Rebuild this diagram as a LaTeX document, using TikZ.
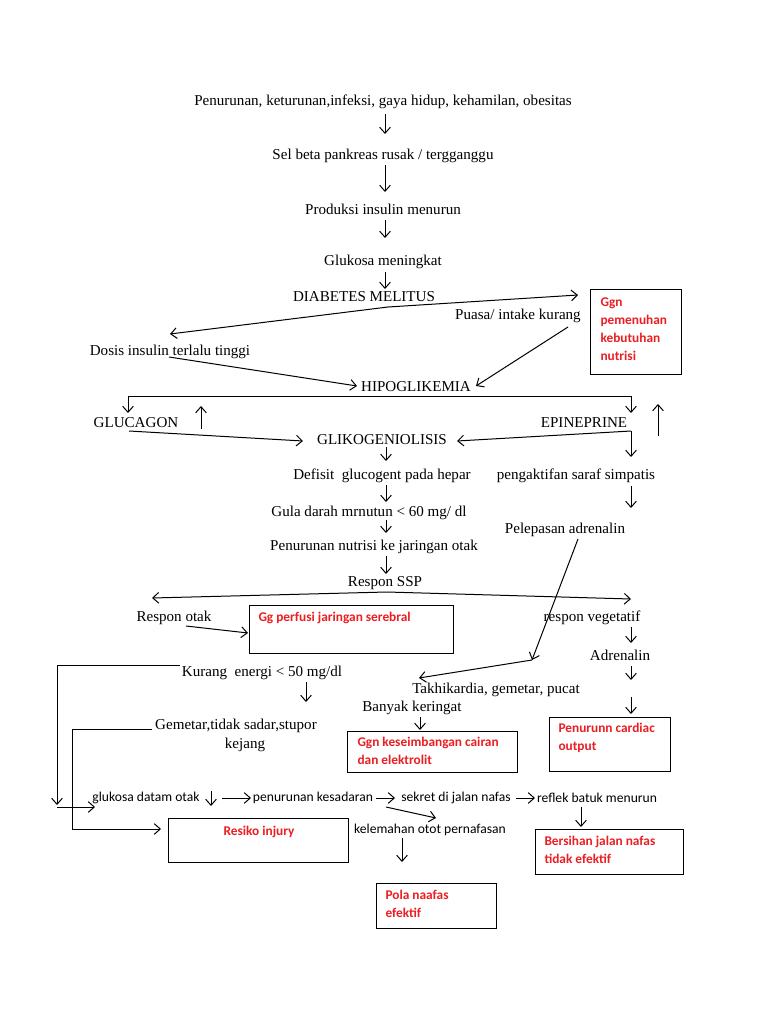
\documentclass[tikz,border=0pt]{standalone}
\usepackage{fontspec}
\setmainfont{Liberation Serif}
\newfontfamily\calfont{Carlito}
\usetikzlibrary{arrows.meta,fit}
\definecolor{redtxt}{RGB}{235,30,35}
\begin{document}
\begin{tikzpicture}[x=0.75pt,y=-0.75pt,line width=0.75pt,
  arr/.style={-{Straight Barb[length=4.5pt,width=8pt,line width=0.75pt]}},
  t/.style={inner sep=0pt,font=\fontsize{11.3}{13}\selectfont},
  s/.style={inner sep=0pt,font=\calfont\fontsize{10.2}{12}\selectfont},
  r/.style={inner sep=0pt,font=\calfont\bfseries\fontsize{10}{13.5}\selectfont,text=redtxt,align=left,anchor=north west},
  boxed/.style={draw,line width=0.75pt,inner sep=0pt}]
\useasboundingbox (0,0) rectangle (768,1024);
\fill[white] (0,0) rectangle (768,1024);

% ---------- text nodes (serif) ----------
\node[t] (n1) at (383,102) {Penurunan, keturunan,infeksi, gaya hidup, kehamilan, obesitas};
\node[t] (n2) at (383,156) {Sel beta pankreas rusak / tergganggu};
\node[t] (n3) at (383,209) {Produksi insulin menurun};
\node[t] (n4) at (383,262) {Glukosa meningkat};
\node[t] (dm) at (364,297) {DIABETES MELITUS};
\node[t] (puasa) at (518,316) {Puasa/ intake kurang};
\node[t] (dosis) at (170,352) {Dosis insulin terlalu tinggi};
\node[t] (hipo) at (416,387) {HIPOGLIKEMIA};
\node[t] (gluc) at (136,423) {GLUCAGON};
\node[t] (epi) at (584,423) {EPINEPRINE};
\node[t] (glik) at (382,440) {GLIKOGENIOLISIS};
\node[t] (def) at (382,476) {Defisit~ glucogent pada hepar};
\node[t] (gula) at (369,513) {Gula darah mrnutun < 60 mg/ dl};
\node[t] (pen) at (374,547) {Penurunan nutrisi ke jaringan otak};
\node[t] (ssp) at (385,583) {Respon SSP};
\node[t] (peng) at (576,476) {pengaktifan saraf simpatis};
\node[t] (pel) at (565,530) {Pelepasan adrenalin};
\node[t] (otak) at (174,618) {Respon otak};
\node[t] (veg) at (592,618) {respon vegetatif};
\node[t] (adr) at (620,655) {Adrenalin};
\node[t] (takh) at (496,690) {Takhikardia, gemetar, pucat};
\node[t] (bany) at (412,708) {Banyak keringat};
\node[t] (kur) at (262,673) {Kurang~ energi < 50 mg/dl};
\node[t] (gem) at (236,726) {Gemetar,tidak sadar,stupor};
\node[t] (kej) at (245,745) {kejang};

% ---------- text nodes (sans, bottom row) ----------
\node[s] (glo) at (146,798) {glukosa datam otak};
\node[s] (kes) at (313,798) {penurunan kesadaran};
\node[s] (sek) at (456,798) {sekret di jalan nafas};
\node[s] (refl) at (597,798) {reflek batuk menurun};
\node[s] (kel) at (430,830) {kelemahan otot pernafasan};

% ---------- boxes ----------
\coordinate (b1a) at (590,289); \coordinate (b1b) at (681,374);
\node[boxed,fit=(b1a)(b1b)] (box1) {};
\node[r] (box1t) at (600,297) {Ggn\\pemenuhan\\kebutuhan\\nutrisi};

\coordinate (b2a) at (249,605); \coordinate (b2b) at (453,653);
\node[boxed,fit=(b2a)(b2b)] (box2) {};
\node[r] (box2t) at (258,612) {Gg perfusi jaringan serebral};

\coordinate (b3a) at (347,731); \coordinate (b3b) at (517,772);
\node[boxed,fit=(b3a)(b3b)] (box3) {};
\node[r] (box3t) at (357,737) {Ggn keseimbangan cairan\\dan elektrolit};

\coordinate (b4a) at (549,717); \coordinate (b4b) at (670,771);
\node[boxed,fit=(b4a)(b4b)] (box4) {};
\node[r] (box4t) at (558,723) {Penurunn cardiac\\output};

\coordinate (b5a) at (168,818); \coordinate (b5b) at (348,862);
\node[boxed,fit=(b5a)(b5b)] (box5) {};
\node[inner sep=0pt,font=\calfont\bfseries\fontsize{10}{13.5}\selectfont,text=redtxt] (box5t) at (259,832) {Resiko injury};

\coordinate (b6a) at (376,883); \coordinate (b6b) at (496,928);
\node[boxed,fit=(b6a)(b6b)] (box6) {};
\node[r] (box6t) at (385,890) {Pola naafas\\efektif};

\coordinate (b7a) at (535,829); \coordinate (b7b) at (683,874);
\node[boxed,fit=(b7a)(b7b)] (box7) {};
\node[r] (box7t) at (544,836) {Bersihan jalan nafas\\tidak efektif};

% ---------- connector coordinates ----------
\coordinate (a1s) at (385,114); \coordinate (a1e) at (385,134);
\coordinate (a2s) at (385,165); \coordinate (a2e) at (385,192);
\coordinate (a3s) at (385,220); \coordinate (a3e) at (385,238);
\coordinate (a4s) at (385,272); \coordinate (a4e) at (385,289);
\coordinate (jdm) at (388,307);
\coordinate (gge) at (578,295);
\coordinate (dose) at (170,334);
\coordinate (puas) at (568,327); \coordinate (hipR) at (476,386);
\coordinate (doss) at (169,357); \coordinate (hipL) at (357,386);
\coordinate (hl) at (128,396); \coordinate (hr) at (631,396);
\coordinate (hle) at (128,413); \coordinate (hre) at (631,413);
\coordinate (gu1) at (201,429); \coordinate (gu2) at (201,406);
\coordinate (eu1) at (658,436); \coordinate (eu2) at (658,404);
\coordinate (glus) at (129,431); \coordinate (glikL) at (303,441);
\coordinate (epis) at (631,431); \coordinate (glikR) at (457,441);
\coordinate (epid) at (631,457);
\coordinate (k1s) at (386,447); \coordinate (k1e) at (386,461);
\coordinate (k2s) at (386,485); \coordinate (k2e) at (386,502);
\coordinate (k3s) at (386,520); \coordinate (k3e) at (386,533);
\coordinate (k4s) at (386,556); \coordinate (k4e) at (386,574);
\coordinate (jssp) at (387,592);
\coordinate (sspL) at (152,598); \coordinate (sspR) at (631,599);
\coordinate (ps1) at (631,486); \coordinate (ps2) at (631,508);
\coordinate (pls) at (578,539); \coordinate (plm) at (532,660); \coordinate (ple) at (419,678);
\coordinate (ots) at (186,626); \coordinate (ote) at (248,633);
\coordinate (v1s) at (631,627); \coordinate (v1e) at (631,643);
\coordinate (v2s) at (631,666); \coordinate (v2e) at (631,680);
\coordinate (v3s) at (631,697); \coordinate (v3e) at (631,714);
\coordinate (bks) at (420,717); \coordinate (bke) at (420,730);
\coordinate (kus) at (306,682); \coordinate (kue) at (306,702);
\coordinate (l1s) at (180,665); \coordinate (l1c) at (57,665); \coordinate (l1e) at (57,805);
\coordinate (l1h) at (57,807); \coordinate (l1he) at (95,807);
\coordinate (l2s) at (152,729); \coordinate (l2c) at (72,729); \coordinate (l2d) at (72,829); \coordinate (l2e) at (161,829);
\coordinate (gd1) at (211,791); \coordinate (gd2) at (211,806);
\coordinate (h1s) at (222,798); \coordinate (h1e) at (251,798);
\coordinate (h2s) at (376,798); \coordinate (h2e) at (395,798);
\coordinate (h3s) at (516,798); \coordinate (h3e) at (535,798);
\coordinate (kls) at (386,807); \coordinate (kle) at (436,818);
\coordinate (pds) at (402,838); \coordinate (pde) at (402,862);
\coordinate (rds) at (581,807); \coordinate (rde) at (581,827);

% ---------- connectors ----------
\draw[arr] (a1s) -- (a1e);
\draw[arr] (a2s) -- (a2e);
\draw[arr] (a3s) -- (a3e);
\draw[arr] (a4s) -- (a4e);
\draw[arr] (jdm) -- (gge);
\draw[arr] (jdm) -- (dose);
\draw[arr] (puas) -- (hipR);
\draw[arr] (doss) -- (hipL);
\draw (hl) -- (hr);
\draw[arr] (hl) -- (hle);
\draw[arr] (hr) -- (hre);
\draw[arr] (gu1) -- (gu2);
\draw[arr] (eu1) -- (eu2);
\draw[arr] (glus) -- (glikL);
\draw[arr] (epis) -- (glikR);
\draw[arr] (epis) -- (epid);
\draw[arr] (k1s) -- (k1e);
\draw[arr] (k2s) -- (k2e);
\draw[arr] (k3s) -- (k3e);
\draw[arr] (k4s) -- (k4e);
\draw[arr] (jssp) -- (sspL);
\draw[arr] (jssp) -- (sspR);
\draw[arr] (ps1) -- (ps2);
\draw[arr] (pls) -- (plm);
\draw[arr] (plm) -- (ple);
\draw[arr] (ots) -- (ote);
\draw[arr] (v1s) -- (v1e);
\draw[arr] (v2s) -- (v2e);
\draw[arr] (v3s) -- (v3e);
\draw[arr] (bks) -- (bke);
\draw[arr] (kus) -- (kue);
\draw[arr] (l1s) -- (l1c) -- (l1e);
\draw[arr] (l1h) -- (l1he);
\draw[arr] (l2s) -- (l2c) -- (l2d) -- (l2e);
\draw[arr] (gd1) -- (gd2);
\draw[arr] (h1s) -- (h1e);
\draw[arr] (h2s) -- (h2e);
\draw[arr] (h3s) -- (h3e);
\draw[arr] (kls) -- (kle);
\draw[arr] (pds) -- (pde);
\draw[arr] (rds) -- (rde);
\end{tikzpicture}
\end{document}
